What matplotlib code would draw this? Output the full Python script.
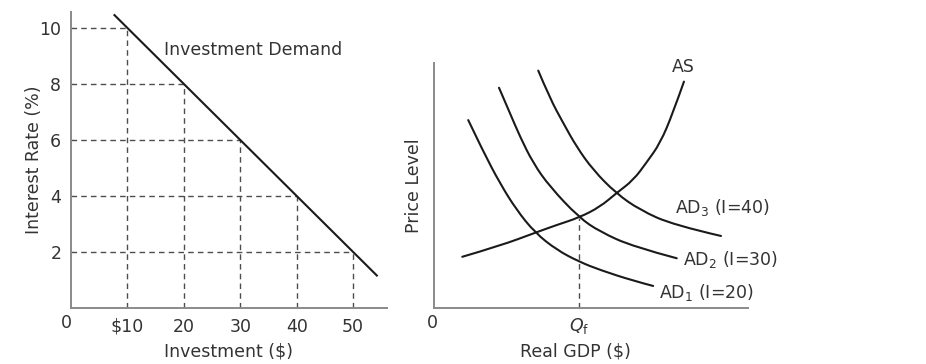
import matplotlib.pyplot as plt
from matplotlib.path import Path
from matplotlib.patches import PathPatch

# left panel: investment demand schedule
investment = [10, 20, 30, 40, 50]
interest_rate = [10, 8, 6, 4, 2]
demand_x = [7.7, 54.2]
demand_y = [10.46, 1.16]
x_tick_labels = ['$10', '20', '30', '40', '50']
y_tick_labels = ['10', '8', '6', '4', '2']

# right panel: AS / AD curves (arbitrary 0-100 units)
as_x = [9.0, 21.0, 32.2, 39.1, 46.2, 52.9, 58.0, 63.5, 67.8, 72.0, 76.1, 79.6]
as_y = [20.9, 25.4, 30.7, 33.9, 36.9, 41.3, 46.8, 52.2, 59.6, 67.2, 79.6, 92.4]
ad1_x = [10.9, 15.7, 21.0, 26.3, 32.2, 39.1, 46.2, 52.9, 63.5, 69.8]
ad1_y = [76.7, 63.8, 50.9, 40.0, 30.7, 23.7, 18.9, 15.5, 11.1, 9.0]
ad2_x = [20.7, 24.2, 27.4, 31.6, 36.9, 46.2, 52.9, 63.5, 77.3]
ad2_y = [89.9, 79.5, 69.9, 59.1, 49.5, 36.9, 31.1, 25.0, 20.3]
ad3_x = [33.2, 36.9, 41.2, 45.4, 50.7, 58.0, 65.6, 76.2, 91.4]
ad3_y = [96.9, 85.6, 75.4, 65.8, 56.3, 46.8, 40.0, 33.9, 29.4]
qf_x = 46.2
qf_y = 36.9

plt.rcParams['font.family'] = ['DejaVu Sans']
txt = '#333333'
spine = '#8a8a8a'
curve = '#1a1a1a'
dash = '#4d4d4d'
fs = 12.5


def smooth_curve(ax, xs, ys):
    # quadratic b-spline style path: read points act as control points
    pts = list(zip(xs, ys))
    verts = [pts[0]]
    codes = [Path.MOVETO]
    for i in range(1, len(pts) - 2):
        mid = ((pts[i][0] + pts[i + 1][0]) / 2, (pts[i][1] + pts[i + 1][1]) / 2)
        verts += [pts[i], mid]
        codes += [Path.CURVE3, Path.CURVE3]
    verts += [pts[-2], pts[-1]]
    codes += [Path.CURVE3, Path.CURVE3]
    ax.add_patch(PathPatch(Path(verts, codes), fill=False, edgecolor=curve,
                           lw=1.5, capstyle='round'))


fig = plt.figure(figsize=(9.26, 3.64), dpi=100)

# ---- left
ax1 = fig.add_axes([71/926, 56/364, (387-71)/926, (308-12)/364])
ax1.set_xlim(0, 56)
ax1.set_ylim(0, 10.57)
for s in ['top', 'right']:
    ax1.spines[s].set_visible(False)
for s in ['left', 'bottom']:
    ax1.spines[s].set_color(spine)
    ax1.spines[s].set_linewidth(1.4)
ax1.set_xticks(investment)
ax1.set_xticklabels(x_tick_labels)
ax1.set_yticks(interest_rate)
ax1.set_yticklabels(y_tick_labels)
ax1.tick_params(length=0, labelsize=fs, colors=txt, pad=7)
for xi, yi in zip(investment, interest_rate):
    ax1.plot([0, xi], [yi, yi], ls=(0, (4, 3)), color=dash, lw=1)
    ax1.plot([xi, xi], [0, yi], ls=(0, (4, 3)), color=dash, lw=1)
ax1.plot(demand_x, demand_y, color=curve, lw=1.5)
ax1.text(16.5, 9.2, 'Investment Demand', fontsize=fs, color=txt, va='center')
ax1.text(-0.9, -0.55, '0', fontsize=fs, color=txt, ha='center', va='center')
ax1.set_xlabel('Investment ($)', fontsize=fs, color=txt, labelpad=5)
ax1.set_ylabel('Interest Rate (%)', fontsize=fs, color=txt, labelpad=-2.5)

# ---- right
ax2 = fig.add_axes([434/926, 56/364, (748-434)/926, (308-63)/364])
ax2.set_xlim(0, 100)
ax2.set_ylim(0, 100)
for s in ['top', 'right']:
    ax2.spines[s].set_visible(False)
for s in ['left', 'bottom']:
    ax2.spines[s].set_color(spine)
    ax2.spines[s].set_linewidth(1.4)
ax2.set_xticks([qf_x])
ax2.set_xticklabels(['$Q_{\\mathrm{f}}$'])
ax2.set_yticks([])
ax2.tick_params(length=0, labelsize=fs, colors=txt, pad=6)
ax2.plot([qf_x, qf_x], [0, qf_y], ls=(0, (4, 3)), color=dash, lw=1)
for cx, cy in [(as_x, as_y), (ad1_x, ad1_y), (ad2_x, ad2_y), (ad3_x, ad3_y)]:
    smooth_curve(ax2, cx, cy)
ax2.text(79.3, 98.4, 'AS', fontsize=fs, color=txt, ha='center', va='center')
ax2.text(76.8, 41.2, 'AD$_3$ (I=40)', fontsize=fs, color=txt, va='center')
ax2.text(79.3, 19.6, 'AD$_2$ (I=30)', fontsize=fs, color=txt, va='center')
ax2.text(71.7, 6.5, 'AD$_1$ (I=20)', fontsize=fs, color=txt, va='center')
ax2.text(-0.6, -6.1, '0', fontsize=fs, color=txt, ha='center', va='center')
ax2.set_xlabel('Real GDP ($)', fontsize=fs, color=txt)
ax2.xaxis.set_label_coords(0.45, -0.14)
ax2.set_ylabel('Price Level', fontsize=fs, color=txt, labelpad=8)

fig.savefig('out.png', dpi=100)
